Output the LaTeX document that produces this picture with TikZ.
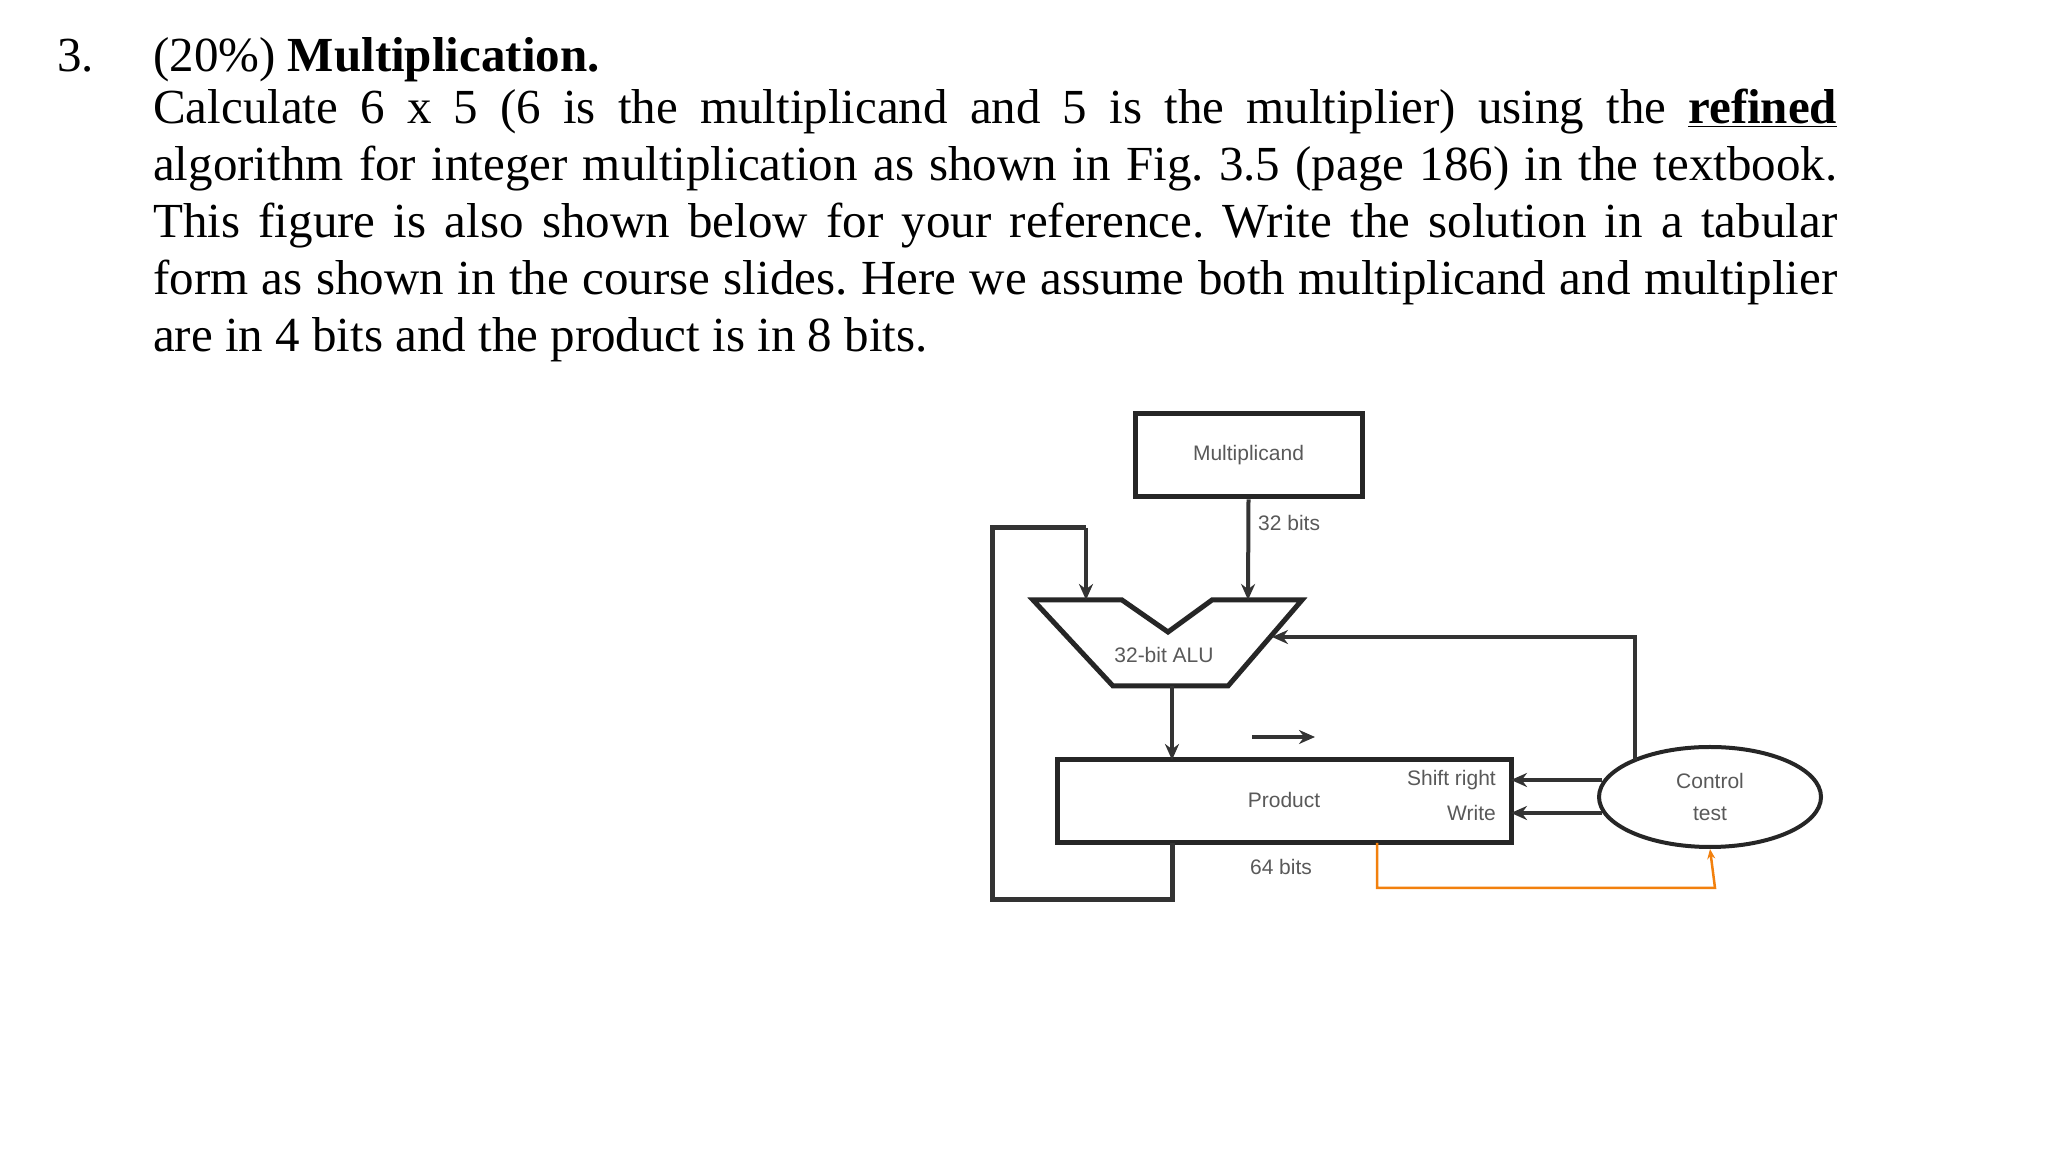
\documentclass[tikz,border=0pt]{standalone}
\usepackage{fontspec}
\setmainfont{Liberation Serif}
\newfontfamily\diag{Liberation Sans}
\usetikzlibrary{arrows.meta,shapes.geometric}
\begin{document}
\frenchspacing
\begin{tikzpicture}[x=1pt,y=1pt,
  ln/.style={anchor=base west,inner sep=0pt,font=\fontsize{49}{57}\selectfont},
  box/.style={draw=black!85,line width=5pt},
  wire/.style={draw=black!80,line width=4pt},
  arr/.style={wire,-{Stealth[length=16pt,width=14pt]}},
  lab/.style={font=\diag\fontsize{21}{25}\selectfont,text=black!65,inner sep=0pt}]
\fill[white] (0,0) rectangle (2046,1156);
\useasboundingbox (0,0) rectangle (2046,1156);
\node[ln] (n3) at (57,1084) {3.};
\node[ln] (h) at (153,1084) {(20\%) \textbf{Multiplication.}};
\node[ln] (l1) at (153,1032) {\makebox[1684pt][s]{Calculate 6 x 5 (6 is the multiplicand and 5 is the multiplier) using the \underline{\textbf{refined}}}};
\node[ln] (l2) at (153,975) {\makebox[1684pt][s]{algorithm for integer multiplication as shown in Fig. 3.5 (page 186) in the textbook.}};
\node[ln] (l3) at (153,918) {\makebox[1684pt][s]{This figure is also shown below for your reference. Write the solution in a tabular}};
\node[ln] (l4) at (153,861) {\makebox[1684pt][s]{form as shown in the course slides. Here we assume both multiplicand and multiplier}};
\node[ln] (l5) at (153,804) {are in 4 bits and the product is in 8 bits.};
% diagram
\node[box,minimum width=227pt,minimum height=83pt,inner sep=0pt] (mc) at (1248.5,700.5) {};
\node[lab] at (mc) {Multiplicand};
\draw[box,line join=miter] (1033,556) -- (1122,556) -- (1168,524) -- (1212,556) -- (1302,556) -- (1228,470) -- (1113,470) -- cycle;
\coordinate (alutopL) at (1086,556);
\coordinate (alutopR) at (1248,556);
\coordinate (alubot) at (1172,470);
\coordinate (aluright) at (1272,519);
\node[lab] at (1164,501) {32-bit ALU};
\node[box,minimum width=454pt,minimum height=83pt,inner sep=0pt] (pr) at (1284,354.5) {};
\node[lab] at (1284,356) {Product};
\node[lab,anchor=east] at (1496,376) {Shift right};
\node[lab,anchor=east] at (1496,343) {Write};
\node[lab] at (1281,289) {64 bits};
\node[draw=black!85,line width=4pt,ellipse,minimum width=222pt,minimum height=100pt,inner sep=0pt] (ct) at (1710,359) {};
\node[lab,align=center,font=\diag\fontsize{21}{32}\selectfont] at (ct) {Control\\test};
\draw[arr] (mc.south) -- (alutopR);
\node[lab,anchor=west] at (1258,633) {32 bits};
\draw[arr] (alubot) -- (1172,396);
\draw[wire,line width=5pt] (1172,313) -- (1172,256) -- (992,256) -- (992,628) -- (1086,628);
\draw[arr] (1086,628) -- (alutopL);
\draw[arr] (1635,396) -- (1635,519) -- (aluright);
\draw[arr] (1602,376) -- (1511,376);
\draw[arr] (1602,343) -- (1511,343);
\draw[draw=orange!80!brown,line width=2.5pt,-{Stealth[length=10pt,width=8pt]}] (1377,313) -- (1377,268) -- (1715,268) -- (ct.south);
\draw[wire,-{Stealth[length=16pt,width=14pt]}] (1252,419) -- (1315,419);
\end{tikzpicture}
\end{document}
